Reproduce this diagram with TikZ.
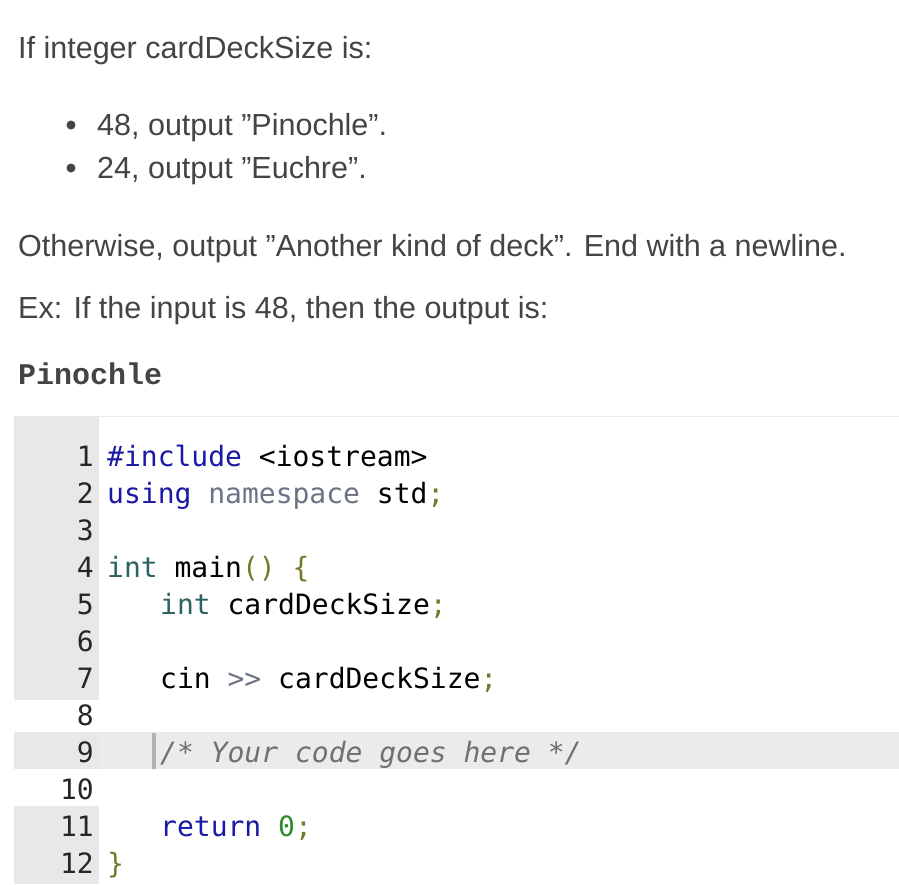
\documentclass[tikz,border=0pt]{standalone}
\usepackage{fontspec}
\setmainfont{Liberation Sans}
\newfontfamily\codefont{DejaVu Sans Mono}
\newfontfamily\outfont{Liberation Mono}
\newcommand{\qq}{\symbol{34}}
\definecolor{kwblue}{HTML}{1A1AA6}
\definecolor{nsgray}{HTML}{6B7385}
\definecolor{inttype}{HTML}{2B6262}
\definecolor{olive}{HTML}{77772A}
\definecolor{numgreen}{HTML}{2E8B2E}
\definecolor{cmt}{HTML}{707070}
\definecolor{txt}{HTML}{444444}
\definecolor{gutter}{HTML}{E8E8E8}
\begin{document}
\begin{tikzpicture}[x=1pt,y=-1pt,
  prose/.style={anchor=base west,inner sep=0,text=txt,font=\fontsize{30.5}{34}\selectfont},
  code/.style={anchor=base west,inner sep=0,font=\codefont\fontsize{28}{30}\selectfont},
  lnum/.style={anchor=base east,inner sep=0,text=black!85,font=\codefont\fontsize{28}{30}\selectfont}]
\useasboundingbox (0,0) rectangle (899,884);
\fill[white] (0,0) rectangle (899,884);
\node[prose] (t1) at (18,58) {If integer cardDeckSize is:};
\fill[txt] (71,125) circle (4.5);
\fill[txt] (71,168) circle (4.5);
\node[prose] (b1) at (97,135) {48, output \qq Pinochle\qq .};
\node[prose] (b2) at (97,178) {24, output \qq Euchre\qq .};
\node[prose] (t2) at (18,256) {Otherwise, output \qq Another kind of deck\qq . End with a newline.};
\node[prose] (t3) at (18,318) {Ex: If the input is 48, then the output is:};
\node[anchor=base west,inner sep=0,text=txt,font=\outfont\bfseries\fontsize{30}{30}\selectfont] (out) at (18,384) {Pinochle};
% editor
\draw[black!8] (14,416) -- (899,416);
\fill[gutter] (14,416) rectangle (99,884);
\fill[white] (14,700) rectangle (99,732);
\fill[white] (14,769) rectangle (99,806);
\fill[black!8] (99,732) rectangle (899,769);
\fill[black!30] (152,733) rectangle (156,769);
\foreach \n in {1,...,12} { \node[lnum] (n\n) at (94,{466+37*(\n-1)}) {\n}; }
\node[code] (c1) at (107,466) {\textcolor{kwblue}{\#include} <iostream>};
\node[code] (c2) at (107,503) {\textcolor{kwblue}{using} \textcolor{nsgray}{namespace} std\textcolor{olive}{;}};
\node[code] (c4) at (107,577) {\textcolor{inttype}{int} main\textcolor{olive}{() \{}};
\node[code] (c5) at (160,614) {\textcolor{inttype}{int} cardDeckSize\textcolor{olive}{;}};
\node[code] (c7) at (160,688) {cin \textcolor{nsgray}{>>} cardDeckSize\textcolor{olive}{;}};
\node[code,text=cmt] (c9) at (160,762) {\itshape /* Your code goes here */};
\node[code] (c11) at (160,836) {\textcolor{kwblue}{return} \textcolor{numgreen}{0}\textcolor{olive}{;}};
\node[code] (c12) at (107,873) {\textcolor{olive}{\}}};
\end{tikzpicture}
\end{document}
